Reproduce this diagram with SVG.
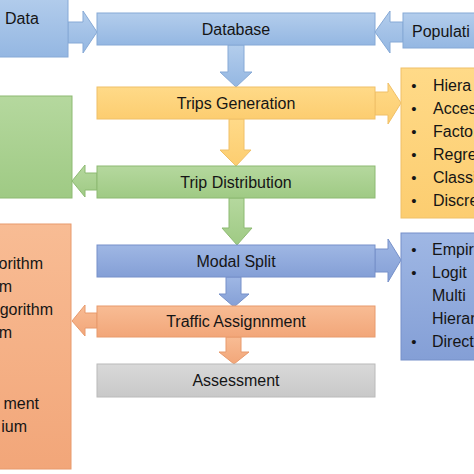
<svg xmlns="http://www.w3.org/2000/svg" width="474" height="474" viewBox="0 0 474 474">
<defs>
<linearGradient id="gBlue" x1="0" y1="0" x2="0" y2="1"><stop offset="0" stop-color="#b3cdec"/><stop offset="1" stop-color="#94b7e2"/></linearGradient>
<linearGradient id="gYel" x1="0" y1="0" x2="0" y2="1"><stop offset="0" stop-color="#ffda88"/><stop offset="1" stop-color="#fccd70"/></linearGradient>
<linearGradient id="gGrn" x1="0" y1="0" x2="0" y2="1"><stop offset="0" stop-color="#b5d89e"/><stop offset="1" stop-color="#9fca84"/></linearGradient>
<linearGradient id="gMod" x1="0" y1="0" x2="0" y2="1"><stop offset="0" stop-color="#9fb7e4"/><stop offset="1" stop-color="#849fd6"/></linearGradient>
<linearGradient id="gSal" x1="0" y1="0" x2="0" y2="1"><stop offset="0" stop-color="#f8bc94"/><stop offset="1" stop-color="#f2a679"/></linearGradient>
<linearGradient id="gGry" x1="0" y1="0" x2="0" y2="1"><stop offset="0" stop-color="#d9d9d9"/><stop offset="1" stop-color="#c8c8c8"/></linearGradient>
<style>
text{font-family:"Liberation Sans",Arial,sans-serif;fill:#151515}
.lbl{font-size:16px;text-anchor:middle}
.li{font-size:16px}
.bul{font-size:15px;text-anchor:middle}
.blue{fill:url(#gBlue);stroke:#86a9d6;stroke-width:1}
.yel{fill:url(#gYel);stroke:#f0c068;stroke-width:1}
.grn{fill:url(#gGrn);stroke:#8dba72;stroke-width:1}
.mod{fill:url(#gMod);stroke:#7690c9;stroke-width:1}
.sal{fill:url(#gSal);stroke:#e89a6c;stroke-width:1}
.gry{fill:url(#gGry);stroke:#bababa;stroke-width:1}
</style>
</defs>
<rect width="474" height="474" fill="#ffffff"/>

<g id="connectors">
<polygon class="blue" points="68,22 83,22 83,11 97,32 83,53 83,43 68,43"/>
<polygon class="blue" points="403,22 390,22 390,11 375,32 390,53 390,42 403,42"/>
<polygon class="blue" points="228,45 244,45 244,72 252,72 236,87 220,72 228,72"/>
<polygon class="yel" points="229,119 244,119 244,150 251,150 236,166 220,150 229,150"/>
<polygon class="yel" points="375,92 388,92 388,83 401,103 388,124 388,115 375,115"/>
<polygon class="grn" points="97,173 85,173 85,165 72,181 85,197 85,190 97,190"/>
<polygon class="grn" points="229,198 244,198 244,228 252,228 237,245 222,228 229,228"/>
<polygon class="mod" points="375,249 388,249 388,239 401,260 388,282 388,272 375,272"/>
<polygon class="mod" points="226,277 241,277 241,294 249,294 234,307 219,294 226,294"/>
<polygon class="sal" points="97,313 85,313 85,305 72,321 85,336 85,328 97,328"/>
<polygon class="sal" points="226,337 241,337 241,352 249,352 234,364 219,352 226,352"/>
</g>

<g id="node-data">
<rect class="blue" x="-5" y="-5" width="73" height="62"/>
<text x="5" y="24" style="font-size:16px">Data</text>
</g>

<g id="node-database">
<rect class="blue" x="97" y="13" width="278" height="32"/>
<text class="lbl" x="236" y="35">Database</text>
</g>

<g id="node-population">
<rect class="blue" x="403" y="13" width="80" height="35"/>
<text x="412" y="37" style="font-size:16px">Populati</text>
</g>

<g id="node-trips-generation">
<rect class="yel" x="97" y="87" width="278" height="32"/>
<text class="lbl" x="236" y="109">Trips Generation</text>
</g>

<g id="node-generation-list">
<rect class="yel" x="401" y="68" width="82" height="150"/>
<text class="bul" x="414" y="91">•</text><text class="li" x="433" y="91">Hiera</text>
<text class="bul" x="414" y="114">•</text><text class="li" x="433" y="114">Acces</text>
<text class="bul" x="414" y="137">•</text><text class="li" x="433" y="137">Facto</text>
<text class="bul" x="414" y="160">•</text><text class="li" x="433" y="160">Regre</text>
<text class="bul" x="414" y="183">•</text><text class="li" x="433" y="183">Classi</text>
<text class="bul" x="414" y="206">•</text><text class="li" x="433" y="206">Discre</text>
</g>

<g id="node-distribution-list">
<rect class="grn" x="-5" y="96" width="77" height="102"/>
</g>

<g id="node-trip-distribution">
<rect class="grn" x="97" y="166" width="278" height="32"/>
<text class="lbl" x="236" y="188">Trip Distribution</text>
</g>

<g id="node-modal-split">
<rect class="mod" x="97" y="245" width="278" height="32"/>
<text class="lbl" x="236" y="267">Modal Split</text>
</g>

<g id="node-modal-list">
<rect class="mod" x="401" y="233" width="82" height="127"/>
<text class="bul" x="414" y="255">•</text><text class="li" x="432" y="255">Empir</text>
<text class="bul" x="414" y="278">•</text><text class="li" x="432" y="278">Logit</text>
<text class="li" x="432" y="301">Multi</text>
<text class="li" x="432" y="324">Hierar</text>
<text class="bul" x="414" y="347">•</text><text class="li" x="432" y="347">Direct</text>
</g>

<g id="node-traffic-assignment">
<rect class="sal" x="97" y="306" width="278" height="31"/>
<text class="lbl" x="236" y="327">Traffic Assignnment</text>
</g>

<g id="node-assignment-list">
<rect class="sal" x="-5" y="224" width="76" height="245"/>
<text class="li" x="43" y="269" text-anchor="end">orithm</text>
<text class="li" x="12" y="292" text-anchor="end">m</text>
<text class="li" x="53" y="315" text-anchor="end">gorithm</text>
<text class="li" x="12" y="338" text-anchor="end">m</text>
<text class="li" x="39" y="409" text-anchor="end">ment</text>
<text class="li" x="27" y="432" text-anchor="end">ium</text>
</g>

<g id="node-assessment">
<rect class="gry" x="97" y="364" width="278" height="33"/>
<text class="lbl" x="236" y="386">Assessment</text>
</g>
</svg>
